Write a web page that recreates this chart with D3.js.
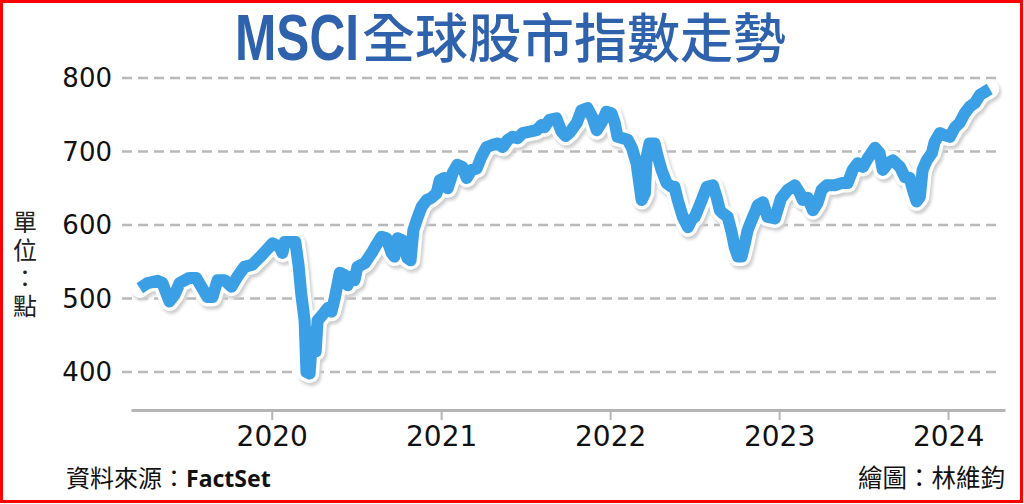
<!DOCTYPE html>
<html>
<head>
<meta charset="utf-8">
<script src="https://cdn.jsdelivr.net/npm/d3@7"></script>
<style>
  html, body { margin: 0; padding: 0; background: #fff; }
  svg { display: block; }
</style>
</head>
<body>
<svg id="chart" width="1024" height="504"></svg>
<script>
// MSCI index (points, irregular dates)
const dates = [
  "2019-03-22","2019-04-08","2019-04-29","2019-05-10","2019-05-25","2019-06-05","2019-06-16","2019-07-07",
  "2019-07-22","2019-08-04","2019-08-15","2019-08-26","2019-09-06","2019-09-21","2019-10-06","2019-10-19",
  "2019-11-03","2019-11-20","2019-12-06","2019-12-21","2020-01-03","2020-01-18","2020-01-24","2020-01-29",
  "2020-02-21","2020-02-28","2020-03-05","2020-03-12","2020-03-16","2020-03-23","2020-03-29","2020-04-05",
  "2020-04-09","2020-04-20","2020-05-01","2020-05-09","2020-05-16","2020-05-27","2020-06-06","2020-06-13",
  "2020-06-21","2020-06-28","2020-07-04","2020-07-20","2020-08-04","2020-08-14","2020-08-25","2020-09-05",
  "2020-09-16","2020-09-22","2020-09-29","2020-10-10","2020-10-20","2020-10-27","2020-11-02","2020-11-11",
  "2020-11-20","2020-12-01","2020-12-11","2020-12-22","2020-12-29","2021-01-08","2021-01-15","2021-01-26",
  "2021-02-05","2021-02-16","2021-02-25","2021-03-08","2021-03-19","2021-03-29","2021-04-09","2021-04-22",
  "2021-05-03","2021-05-14","2021-05-25","2021-06-04","2021-06-15","2021-06-26","2021-07-11","2021-07-26",
  "2021-08-06","2021-08-12","2021-08-23","2021-09-07","2021-09-18","2021-09-27","2021-10-06","2021-10-21",
  "2021-10-31","2021-11-13","2021-11-24","2021-12-03","2021-12-14","2021-12-24","2022-01-04","2022-01-11",
  "2022-01-17","2022-01-28","2022-02-08","2022-02-17","2022-02-27","2022-03-10","2022-03-17","2022-03-21",
  "2022-03-27","2022-04-07","2022-04-14","2022-04-22","2022-05-03","2022-05-14","2022-05-20","2022-05-27",
  "2022-06-07","2022-06-18","2022-06-26","2022-07-03","2022-07-09","2022-07-18","2022-07-29","2022-08-11",
  "2022-08-19","2022-08-26","2022-09-01","2022-09-12","2022-09-21","2022-09-27","2022-10-04","2022-10-12",
  "2022-10-19","2022-10-25","2022-11-03","2022-11-09","2022-11-16","2022-11-27","2022-12-07","2022-12-23",
  "2023-01-05","2023-01-20","2023-02-04","2023-02-15","2023-02-21","2023-03-04","2023-03-15","2023-03-25",
  "2023-04-03","2023-04-14","2023-05-01","2023-05-16","2023-05-29","2023-06-09","2023-06-20","2023-07-01",
  "2023-07-12","2023-07-27","2023-08-06","2023-08-13","2023-08-24","2023-09-04","2023-09-19","2023-09-30",
  "2023-10-10","2023-10-17","2023-10-25","2023-11-01","2023-11-07","2023-11-16","2023-11-27","2023-12-03",
  "2023-12-14","2023-12-25","2024-01-05","2024-01-16","2024-01-26","2024-02-06","2024-02-17","2024-02-28",
  "2024-03-10","2024-03-20","2024-03-31"
];
const values = [
  514,521,524,521,496,505,521,528,
  528,514,502,502,525,525,516,530,
  543,546,556,566,575,570,562,577,
  577,545,505,470,400,398,455,428,
  470,478,487,482,500,535,532,518,
  530,525,543,548,562,573,584,582,
  562,557,582,579,555,552,593,610,
  625,634,637,643,661,664,650,671,
  682,679,664,675,677,693,706,709,
  711,706,716,720,718,725,727,729,
  736,733,743,745,727,721,726,739,
  756,759,746,729,740,754,752,739,
  720,718,716,705,684,634,643,693,
  711,711,693,675,657,652,652,634,
  611,597,607,611,620,634,652,654,
  638,620,616,611,589,570,557,557,
  575,593,607,616,627,631,611,609,
  636,648,654,643,634,637,620,630,
  648,654,654,657,657,675,684,679,
  691,705,698,675,684,688,679,665,
  664,648,632,638,675,688,698,713,
  725,722,720,733,739,752,761,766,
  777,781,785
];

const yTicks = [400, 500, 600, 700, 800];
const xTicks = ["2020-01-01", "2021-01-01", "2022-01-01", "2023-01-01", "2024-01-01"];
const xTickLabels = ["2020", "2021", "2022", "2023", "2024"];

const title = "MSCI";
const titleCjk = "全球股市指數走勢";
const unitChars = ["單", "位", "：", "點"];
const sourceLabel = "資料來源：";
const sourceName = "FactSet";
const credit = "繪圖：林維鈞";

const cjk = "'Noto Sans CJK TC', 'Noto Sans CJK SC', sans-serif";
const num = "'DejaVu Sans', sans-serif";

const svg = d3.select("#chart");
const data = dates.map((d, i) => ({ date: new Date(d), value: values[i] }));

const x = d3.scaleUtc()
  .domain([new Date("2019-03-03"), new Date("2024-05-03")])
  .range([131, 1005]);
const y = d3.scaleLinear().domain([400, 800]).range([372, 78]);

// Red frame
svg.append("rect")
  .attr("x", 1.5).attr("y", 1.5)
  .attr("width", 1020).attr("height", 500)
  .attr("fill", "#fff")
  .attr("stroke", "#ff0000")
  .attr("stroke-width", 3);

// Title: narrow bold "MSCI" followed by the Chinese part
const msci = svg.append("g");
const msciText = msci.append("text")
  .attr("font-family", "'Liberation Sans', 'DejaVu Sans', sans-serif")
  .attr("font-weight", "bold")
  .attr("font-size", 64)
  .attr("fill", "#2f62ad")
  .text(title);
const msciWidth = msciText.node().getComputedTextLength();
msci.attr("transform", `translate(235,60) scale(${124 / msciWidth},1)`);

svg.append("text")
  .attr("x", 362).attr("y", 58)
  .attr("font-family", cjk)
  .attr("font-weight", 500)
  .attr("font-size", 53)
  .attr("fill", "#2f62ad")
  .text(titleCjk);

// Grid lines
svg.append("g")
  .selectAll("line")
  .data(yTicks)
  .join("line")
  .attr("x1", 122).attr("x2", 1000)
  .attr("y1", d => y(d)).attr("y2", d => y(d))
  .attr("stroke", "#b9b9b9")
  .attr("stroke-width", 2.5)
  .attr("stroke-dasharray", "10,6");

// Y tick labels
svg.append("g")
  .selectAll("text")
  .data(yTicks)
  .join("text")
  .attr("x", 112)
  .attr("y", d => y(d))
  .attr("dy", "0.36em")
  .attr("text-anchor", "end")
  .attr("font-family", num)
  .attr("font-size", 26)
  .attr("fill", "#111")
  .text(d => d);

// Unit label, stacked vertically in one text
svg.append("text")
  .attr("text-anchor", "middle")
  .attr("font-family", cjk)
  .attr("font-size", 24)
  .attr("fill", "#222")
  .selectAll("tspan")
  .data(unitChars)
  .join("tspan")
  .attr("x", 25)
  .attr("y", (d, i) => 231 + i * 28)
  .text(d => d);

// X axis
const xAxis = d3.axisBottom(x)
  .tickValues(xTicks.map(d => new Date(d)))
  .tickFormat((d, i) => xTickLabels[i])
  .tickSize(10)
  .tickSizeOuter(0)
  .tickPadding(6);

const gx = svg.append("g")
  .attr("transform", "translate(0,410)")
  .call(xAxis);
gx.select(".domain").attr("stroke", "#b5b5b5").attr("stroke-width", 3);
gx.selectAll(".tick line").attr("stroke", "#b5b5b5").attr("stroke-width", 2);
gx.selectAll(".tick text")
  .attr("font-family", num)
  .attr("font-size", 28)
  .attr("fill", "#111");

// Line with halo and drop shadow
const defs = svg.append("defs");
defs.append("filter").attr("id", "soft")
  .attr("x", "-5%").attr("y", "-5%").attr("width", "110%").attr("height", "110%")
  .append("feGaussianBlur").attr("stdDeviation", 1.5);

const line = d3.line()
  .x(d => x(d.date))
  .y(d => y(d.value))
  .curve(d3.curveLinear);

svg.append("path")
  .datum(data)
  .attr("d", line)
  .attr("transform", "translate(2,3)")
  .attr("fill", "none")
  .attr("stroke", "#cfcfcf")
  .attr("stroke-width", 19)
  .attr("stroke-linejoin", "round")
  .attr("stroke-linecap", "round")
  .attr("filter", "url(#soft)");

svg.append("path")
  .datum(data)
  .attr("d", line)
  .attr("fill", "none")
  .attr("stroke", "#fff")
  .attr("stroke-width", 19)
  .attr("stroke-linejoin", "round")
  .attr("stroke-linecap", "round");

svg.append("path")
  .datum(data)
  .attr("d", line)
  .attr("fill", "none")
  .attr("stroke", "#3a9fe4")
  .attr("stroke-width", 12)
  .attr("stroke-linejoin", "round")
  .attr("stroke-linecap", "butt");

// Footer
const src = svg.append("text")
  .attr("x", 66).attr("y", 487)
  .attr("font-size", 24)
  .attr("fill", "#111");
src.append("tspan").attr("font-family", cjk).text(sourceLabel);
src.append("tspan")
  .attr("font-family", "'Noto Sans', sans-serif")
  .attr("font-weight", "bold")
  .attr("font-size", 23)
  .text(sourceName);

svg.append("text")
  .attr("x", 1005).attr("y", 487)
  .attr("text-anchor", "end")
  .attr("font-family", cjk)
  .attr("font-size", 24.5)
  .attr("fill", "#111")
  .text(credit);
</script>
</body>
</html>
